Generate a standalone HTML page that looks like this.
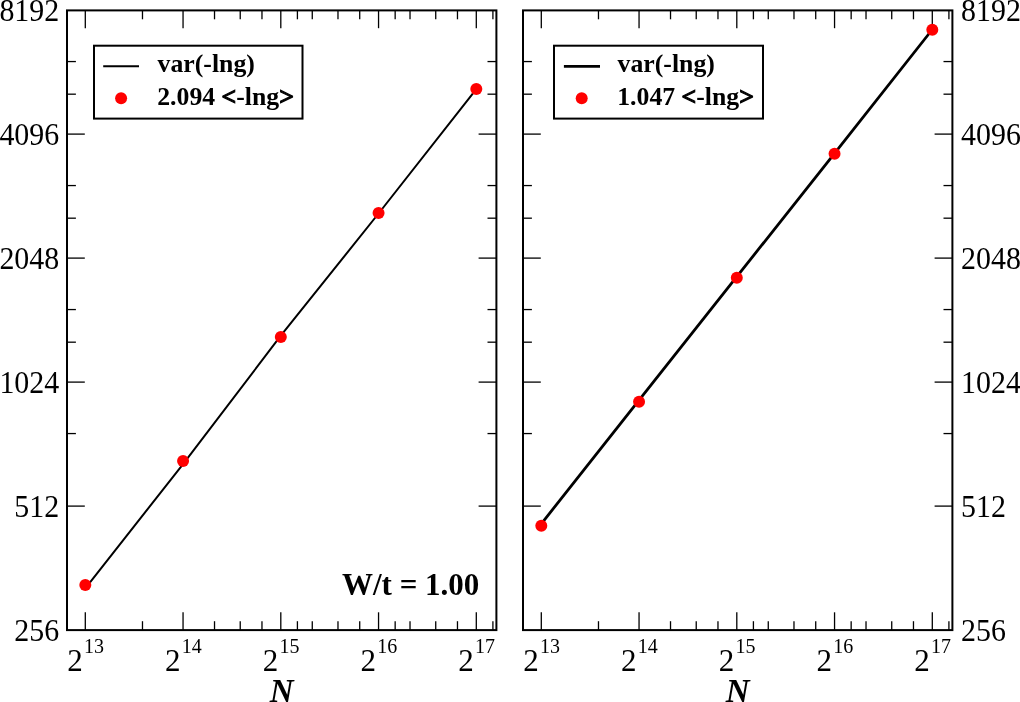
<!DOCTYPE html>
<html><head><meta charset="utf-8"><style>
html,body{margin:0;padding:0;background:#fff;overflow:hidden;}
svg{display:block;}
text{font-family:"Liberation Serif",serif;fill:#000;}
.tl{font-size:31px;}
.yl{font-size:31px;}
.sup{font-size:20px;}
.lg{font-size:25.75px;font-weight:bold;}
.ang{stroke:#000;stroke-width:1.1px;stroke-linejoin:miter;}
.wt{font-size:31px;font-weight:bold;}
.ax{font-size:33px;font-weight:bold;font-style:italic;}
</style></head><body>
<svg width="1020" height="702" viewBox="0 0 1020 702">
<rect width="1020" height="702" fill="#fff"/>
<g stroke="#000" stroke-width="1.3" fill="none"><line x1="85.30" y1="10.4" x2="85.30" y2="28.20" /><line x1="85.30" y1="630.1" x2="85.30" y2="612.30" /><line x1="183.05" y1="10.4" x2="183.05" y2="28.20" /><line x1="183.05" y1="630.1" x2="183.05" y2="612.30" /><line x1="280.80" y1="10.4" x2="280.80" y2="28.20" /><line x1="280.80" y1="630.1" x2="280.80" y2="612.30" /><line x1="378.55" y1="10.4" x2="378.55" y2="28.20" /><line x1="378.55" y1="630.1" x2="378.55" y2="612.30" /><line x1="476.30" y1="10.4" x2="476.30" y2="28.20" /><line x1="476.30" y1="630.1" x2="476.30" y2="612.30" /><line x1="142.48" y1="10.4" x2="142.48" y2="19.30" /><line x1="142.48" y1="630.1" x2="142.48" y2="621.20" /><line x1="214.52" y1="10.4" x2="214.52" y2="19.30" /><line x1="214.52" y1="630.1" x2="214.52" y2="621.20" /><line x1="240.23" y1="10.4" x2="240.23" y2="19.30" /><line x1="240.23" y1="630.1" x2="240.23" y2="621.20" /><line x1="261.97" y1="10.4" x2="261.97" y2="19.30" /><line x1="261.97" y1="630.1" x2="261.97" y2="621.20" /><line x1="297.41" y1="10.4" x2="297.41" y2="19.30" /><line x1="297.41" y1="630.1" x2="297.41" y2="621.20" /><line x1="312.27" y1="10.4" x2="312.27" y2="19.30" /><line x1="312.27" y1="630.1" x2="312.27" y2="621.20" /><line x1="337.98" y1="10.4" x2="337.98" y2="19.30" /><line x1="337.98" y1="630.1" x2="337.98" y2="621.20" /><line x1="359.72" y1="10.4" x2="359.72" y2="19.30" /><line x1="359.72" y1="630.1" x2="359.72" y2="621.20" /><line x1="395.16" y1="10.4" x2="395.16" y2="19.30" /><line x1="395.16" y1="630.1" x2="395.16" y2="621.20" /><line x1="410.02" y1="10.4" x2="410.02" y2="19.30" /><line x1="410.02" y1="630.1" x2="410.02" y2="621.20" /><line x1="435.73" y1="10.4" x2="435.73" y2="19.30" /><line x1="435.73" y1="630.1" x2="435.73" y2="621.20" /><line x1="457.47" y1="10.4" x2="457.47" y2="19.30" /><line x1="457.47" y1="630.1" x2="457.47" y2="621.20" /><line x1="492.91" y1="10.4" x2="492.91" y2="19.30" /><line x1="492.91" y1="630.1" x2="492.91" y2="621.20" /><line x1="67" y1="506.10" x2="84.80" y2="506.10" /><line x1="496.4" y1="506.10" x2="478.60" y2="506.10" /><line x1="67" y1="382.10" x2="84.80" y2="382.10" /><line x1="496.4" y1="382.10" x2="478.60" y2="382.10" /><line x1="67" y1="258.10" x2="84.80" y2="258.10" /><line x1="496.4" y1="258.10" x2="478.60" y2="258.10" /><line x1="67" y1="134.10" x2="84.80" y2="134.10" /><line x1="496.4" y1="134.10" x2="478.60" y2="134.10" /><line x1="67" y1="433.56" x2="75.90" y2="433.56" /><line x1="496.4" y1="433.56" x2="487.50" y2="433.56" /><line x1="67" y1="342.18" x2="75.90" y2="342.18" /><line x1="496.4" y1="342.18" x2="487.50" y2="342.18" /><line x1="67" y1="309.56" x2="75.90" y2="309.56" /><line x1="496.4" y1="309.56" x2="487.50" y2="309.56" /><line x1="67" y1="218.18" x2="75.90" y2="218.18" /><line x1="496.4" y1="218.18" x2="487.50" y2="218.18" /><line x1="67" y1="185.56" x2="75.90" y2="185.56" /><line x1="496.4" y1="185.56" x2="487.50" y2="185.56" /><line x1="67" y1="94.18" x2="75.90" y2="94.18" /><line x1="496.4" y1="94.18" x2="487.50" y2="94.18" /><line x1="67" y1="61.56" x2="75.90" y2="61.56" /><line x1="496.4" y1="61.56" x2="487.50" y2="61.56" /></g>
<rect x="67" y="10.4" width="429.40" height="619.7" fill="none" stroke="#000" stroke-width="2"/>
<path d="M85.30,588.30 L183.05,464.10 L280.80,335.70 L378.55,213.50 L476.30,89.20" fill="none" stroke="#000" stroke-width="2.0"/>
<circle cx="85.30" cy="585.00" r="6" fill="#f00"/>
<circle cx="183.05" cy="461.00" r="6" fill="#f00"/>
<circle cx="280.80" cy="337.00" r="6" fill="#f00"/>
<circle cx="378.55" cy="213.00" r="6" fill="#f00"/>
<circle cx="476.30" cy="89.00" r="6" fill="#f00"/>
<rect x="94" y="45.7" width="208.5" height="72.9" fill="#fff" stroke="#000" stroke-width="2"/>
<line x1="103.2" y1="66.2" x2="139" y2="66.2" stroke="#000" stroke-width="2.0"/>
<circle cx="121.1" cy="98.3" r="6" fill="#f00"/>
<text x="157.6" y="72" class="lg">var(-lng)</text>
<text x="157.2" y="104.5" class="lg">2.094 <tspan class="ang">&lt;</tspan>-lng<tspan class="ang">&gt;</tspan></text>
<text x="85.60" y="671" class="tl" text-anchor="middle">2<tspan class="sup" dx="1.2" dy="-17.75">13</tspan></text>
<text x="183.35" y="671" class="tl" text-anchor="middle">2<tspan class="sup" dx="1.2" dy="-17.75">14</tspan></text>
<text x="281.10" y="671" class="tl" text-anchor="middle">2<tspan class="sup" dx="1.2" dy="-17.75">15</tspan></text>
<text x="378.85" y="671" class="tl" text-anchor="middle">2<tspan class="sup" dx="1.2" dy="-17.75">16</tspan></text>
<text x="476.60" y="671" class="tl" text-anchor="middle">2<tspan class="sup" dx="1.2" dy="-17.75">17</tspan></text>
<text transform="translate(59.20,640.70) scale(0.965,1)" class="yl" text-anchor="end">256</text>
<text transform="translate(59.20,516.70) scale(0.965,1)" class="yl" text-anchor="end">512</text>
<text transform="translate(59.20,392.70) scale(0.965,1)" class="yl" text-anchor="end">1024</text>
<text transform="translate(59.20,268.70) scale(0.965,1)" class="yl" text-anchor="end">2048</text>
<text transform="translate(59.20,144.70) scale(0.965,1)" class="yl" text-anchor="end">4096</text>
<text transform="translate(59.20,20.70) scale(0.965,1)" class="yl" text-anchor="end">8192</text>
<text x="281.70" y="702" class="ax" text-anchor="middle">N</text>
<g stroke="#000" stroke-width="1.3" fill="none"><line x1="541.30" y1="10.4" x2="541.30" y2="28.20" /><line x1="541.30" y1="630.1" x2="541.30" y2="612.30" /><line x1="639.05" y1="10.4" x2="639.05" y2="28.20" /><line x1="639.05" y1="630.1" x2="639.05" y2="612.30" /><line x1="736.80" y1="10.4" x2="736.80" y2="28.20" /><line x1="736.80" y1="630.1" x2="736.80" y2="612.30" /><line x1="834.55" y1="10.4" x2="834.55" y2="28.20" /><line x1="834.55" y1="630.1" x2="834.55" y2="612.30" /><line x1="932.30" y1="10.4" x2="932.30" y2="28.20" /><line x1="932.30" y1="630.1" x2="932.30" y2="612.30" /><line x1="598.48" y1="10.4" x2="598.48" y2="19.30" /><line x1="598.48" y1="630.1" x2="598.48" y2="621.20" /><line x1="670.52" y1="10.4" x2="670.52" y2="19.30" /><line x1="670.52" y1="630.1" x2="670.52" y2="621.20" /><line x1="696.23" y1="10.4" x2="696.23" y2="19.30" /><line x1="696.23" y1="630.1" x2="696.23" y2="621.20" /><line x1="717.97" y1="10.4" x2="717.97" y2="19.30" /><line x1="717.97" y1="630.1" x2="717.97" y2="621.20" /><line x1="753.41" y1="10.4" x2="753.41" y2="19.30" /><line x1="753.41" y1="630.1" x2="753.41" y2="621.20" /><line x1="768.27" y1="10.4" x2="768.27" y2="19.30" /><line x1="768.27" y1="630.1" x2="768.27" y2="621.20" /><line x1="793.98" y1="10.4" x2="793.98" y2="19.30" /><line x1="793.98" y1="630.1" x2="793.98" y2="621.20" /><line x1="815.72" y1="10.4" x2="815.72" y2="19.30" /><line x1="815.72" y1="630.1" x2="815.72" y2="621.20" /><line x1="851.16" y1="10.4" x2="851.16" y2="19.30" /><line x1="851.16" y1="630.1" x2="851.16" y2="621.20" /><line x1="866.02" y1="10.4" x2="866.02" y2="19.30" /><line x1="866.02" y1="630.1" x2="866.02" y2="621.20" /><line x1="891.73" y1="10.4" x2="891.73" y2="19.30" /><line x1="891.73" y1="630.1" x2="891.73" y2="621.20" /><line x1="913.47" y1="10.4" x2="913.47" y2="19.30" /><line x1="913.47" y1="630.1" x2="913.47" y2="621.20" /><line x1="948.91" y1="10.4" x2="948.91" y2="19.30" /><line x1="948.91" y1="630.1" x2="948.91" y2="621.20" /><line x1="523" y1="506.10" x2="540.80" y2="506.10" /><line x1="952.4" y1="506.10" x2="934.60" y2="506.10" /><line x1="523" y1="382.10" x2="540.80" y2="382.10" /><line x1="952.4" y1="382.10" x2="934.60" y2="382.10" /><line x1="523" y1="258.10" x2="540.80" y2="258.10" /><line x1="952.4" y1="258.10" x2="934.60" y2="258.10" /><line x1="523" y1="134.10" x2="540.80" y2="134.10" /><line x1="952.4" y1="134.10" x2="934.60" y2="134.10" /><line x1="523" y1="433.56" x2="531.90" y2="433.56" /><line x1="952.4" y1="433.56" x2="943.50" y2="433.56" /><line x1="523" y1="342.18" x2="531.90" y2="342.18" /><line x1="952.4" y1="342.18" x2="943.50" y2="342.18" /><line x1="523" y1="309.56" x2="531.90" y2="309.56" /><line x1="952.4" y1="309.56" x2="943.50" y2="309.56" /><line x1="523" y1="218.18" x2="531.90" y2="218.18" /><line x1="952.4" y1="218.18" x2="943.50" y2="218.18" /><line x1="523" y1="185.56" x2="531.90" y2="185.56" /><line x1="952.4" y1="185.56" x2="943.50" y2="185.56" /><line x1="523" y1="94.18" x2="531.90" y2="94.18" /><line x1="952.4" y1="94.18" x2="943.50" y2="94.18" /><line x1="523" y1="61.56" x2="531.90" y2="61.56" /><line x1="952.4" y1="61.56" x2="943.50" y2="61.56" /></g>
<rect x="523" y="10.4" width="429.40" height="619.7" fill="none" stroke="#000" stroke-width="2"/>
<path d="M541.30,523.80 L639.05,400.10 L736.80,276.70 L834.55,153.30 L932.30,29.50" fill="none" stroke="#000" stroke-width="2.8"/>
<circle cx="541.30" cy="525.80" r="6" fill="#f00"/>
<circle cx="639.05" cy="401.80" r="6" fill="#f00"/>
<circle cx="736.80" cy="277.80" r="6" fill="#f00"/>
<circle cx="834.55" cy="153.80" r="6" fill="#f00"/>
<circle cx="932.30" cy="29.80" r="6" fill="#f00"/>
<rect x="554" y="45.7" width="209" height="72.9" fill="#fff" stroke="#000" stroke-width="2"/>
<line x1="563.9" y1="66.4" x2="600" y2="66.4" stroke="#000" stroke-width="2.8"/>
<circle cx="581.7" cy="98.3" r="6" fill="#f00"/>
<text x="617.6" y="72" class="lg">var(-lng)</text>
<text x="617.2" y="104.5" class="lg">1.047 <tspan class="ang">&lt;</tspan>-lng<tspan class="ang">&gt;</tspan></text>
<text x="541.60" y="671" class="tl" text-anchor="middle">2<tspan class="sup" dx="1.2" dy="-17.75">13</tspan></text>
<text x="639.35" y="671" class="tl" text-anchor="middle">2<tspan class="sup" dx="1.2" dy="-17.75">14</tspan></text>
<text x="737.10" y="671" class="tl" text-anchor="middle">2<tspan class="sup" dx="1.2" dy="-17.75">15</tspan></text>
<text x="834.85" y="671" class="tl" text-anchor="middle">2<tspan class="sup" dx="1.2" dy="-17.75">16</tspan></text>
<text x="932.60" y="671" class="tl" text-anchor="middle">2<tspan class="sup" dx="1.2" dy="-17.75">17</tspan></text>
<text transform="translate(961.10,640.70) scale(0.965,1)" class="yl">256</text>
<text transform="translate(961.10,516.70) scale(0.965,1)" class="yl">512</text>
<text transform="translate(961.10,392.70) scale(0.965,1)" class="yl">1024</text>
<text transform="translate(961.10,268.70) scale(0.965,1)" class="yl">2048</text>
<text transform="translate(961.10,144.70) scale(0.965,1)" class="yl">4096</text>
<text transform="translate(961.10,20.70) scale(0.965,1)" class="yl">8192</text>
<text x="737.70" y="702" class="ax" text-anchor="middle">N</text>
<text x="342" y="595" class="wt">W/t = 1.00</text>
</svg>
</body></html>
